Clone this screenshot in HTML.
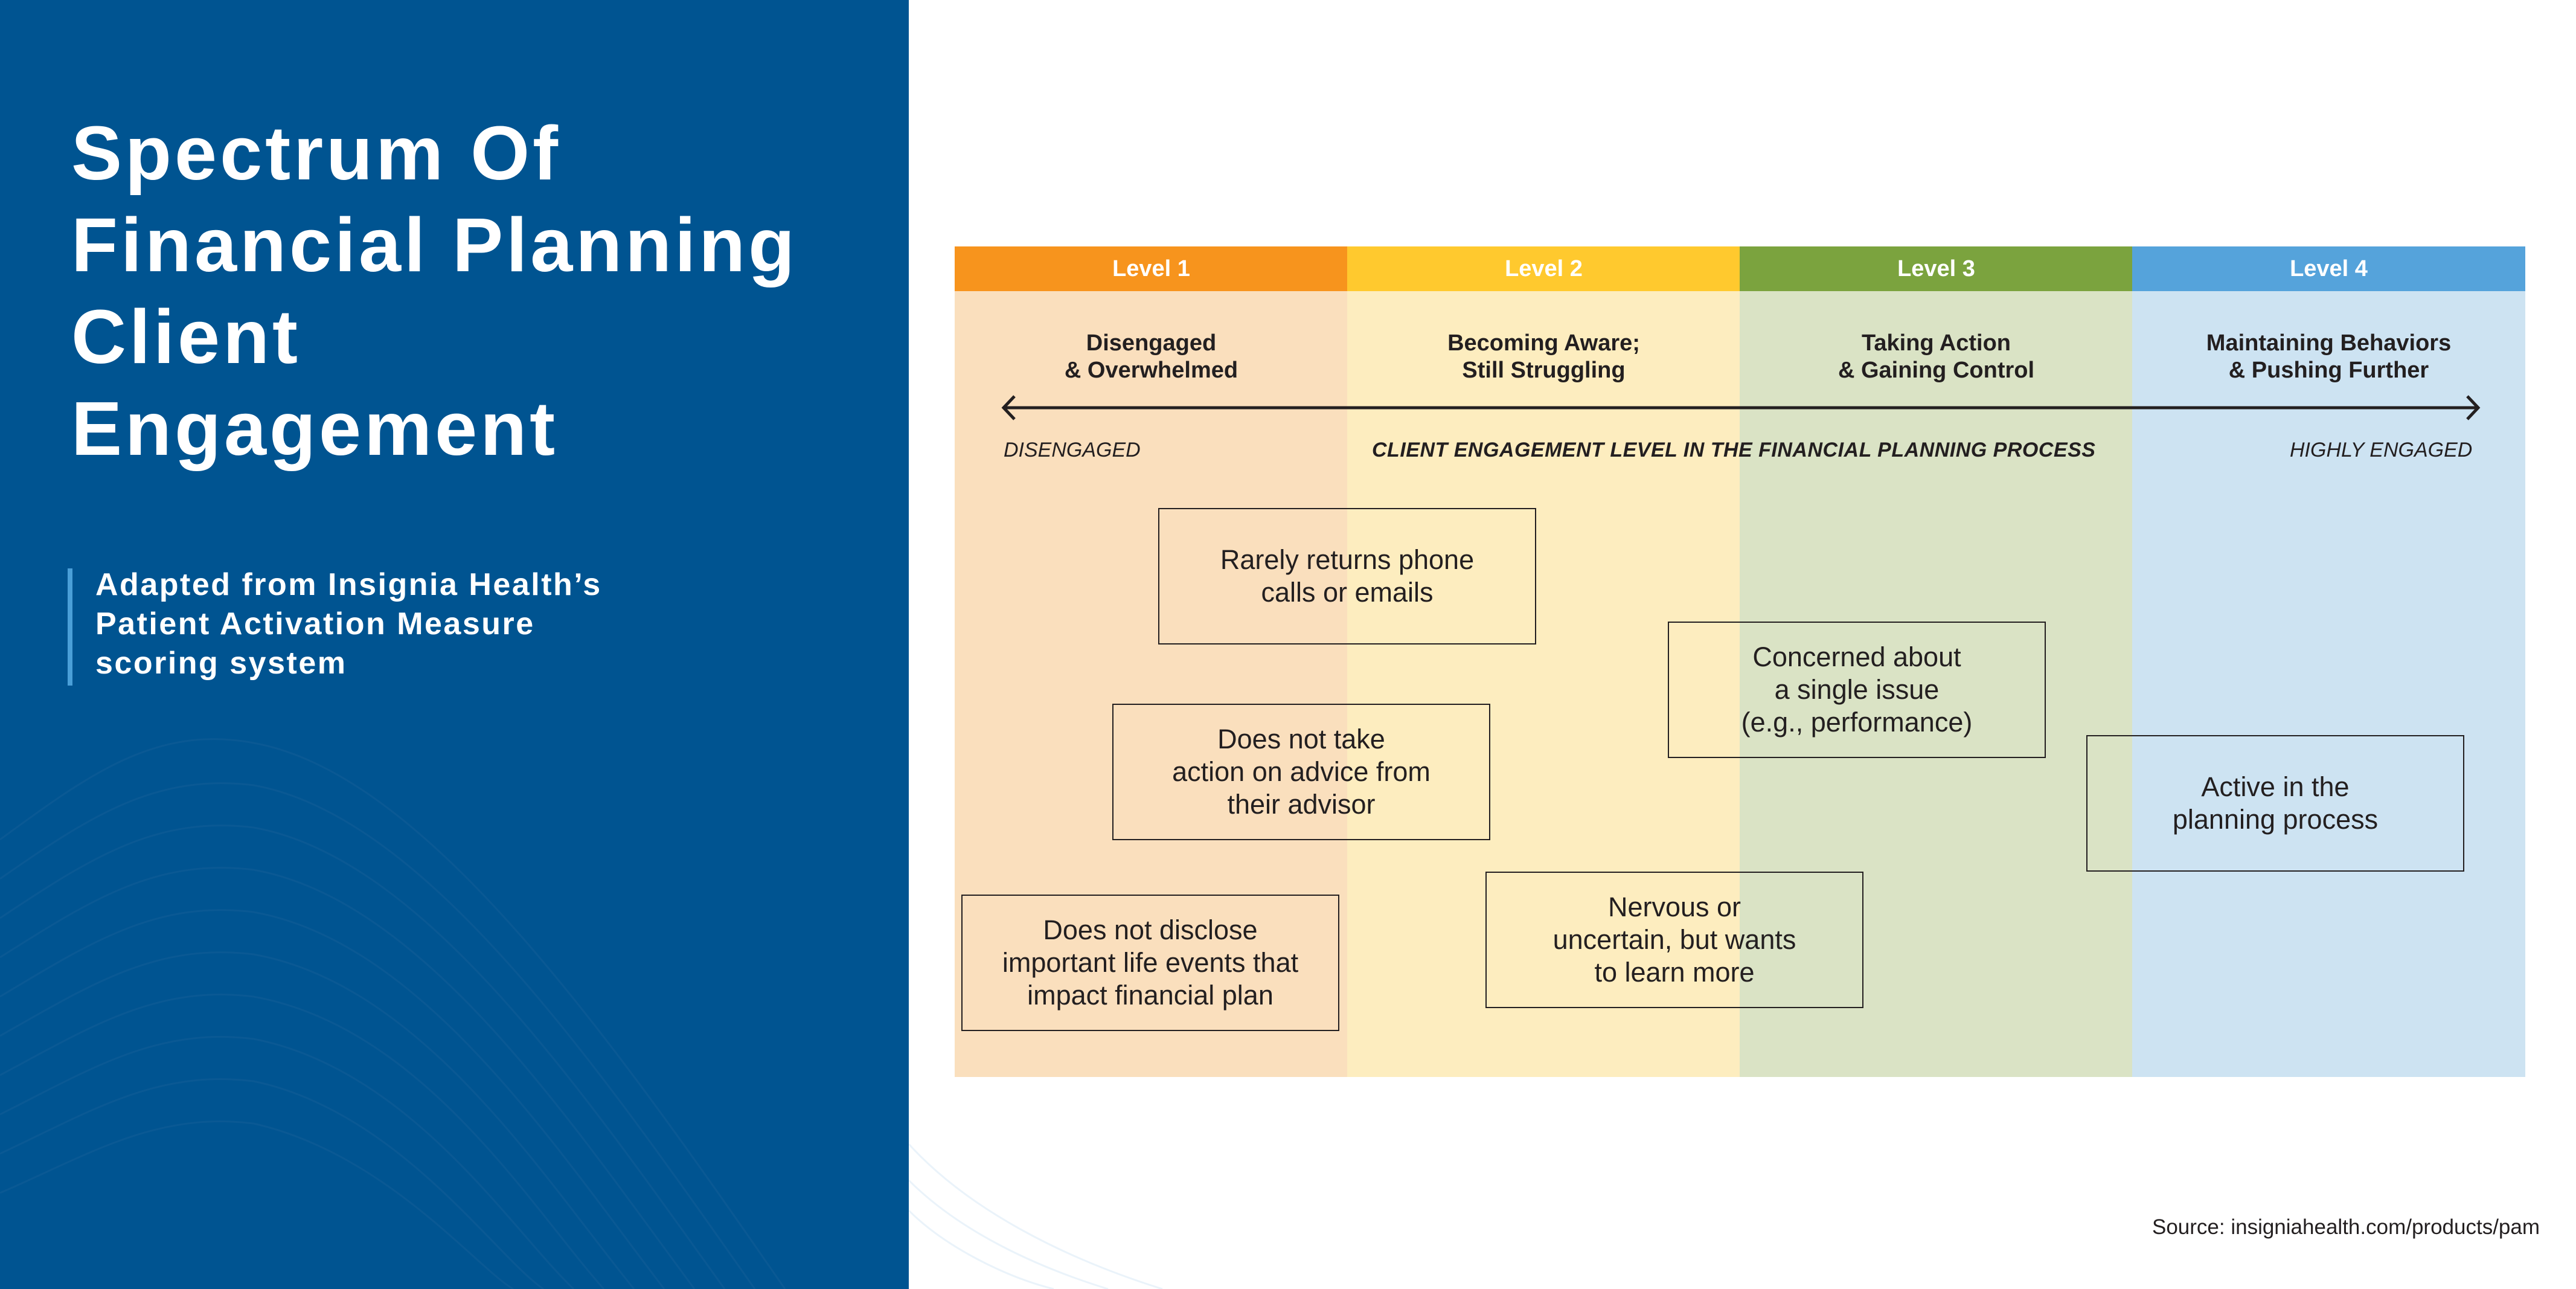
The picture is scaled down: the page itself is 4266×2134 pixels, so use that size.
<!DOCTYPE html>
<html><head><meta charset="utf-8"><style>
*{margin:0;padding:0;box-sizing:border-box}
body{width:4266px;height:2134px;position:relative;background:#fff;font-family:"Liberation Sans",sans-serif;overflow:hidden}
.panel{position:absolute;left:0;top:0;width:1505px;height:2134px;background:#005491;overflow:hidden}
.title{position:absolute;left:118px;top:178px;color:#fff;font-weight:bold;font-size:126px;line-height:152px;letter-spacing:5px}
.bar{position:absolute;left:112px;top:941px;width:8px;height:194px;background:#4a9fd8}
.sub{position:absolute;left:158px;top:936px;color:#fff;font-weight:bold;font-size:52px;line-height:65px;letter-spacing:2.5px}
.col{position:absolute;top:408px;height:1375px;width:651px}
.hd{height:74px;color:#fff;font-weight:bold;font-size:38px;line-height:74px;text-align:center}
.st{position:absolute;top:138px;left:0;width:100%;text-align:center;font-weight:bold;font-size:38px;line-height:45px;color:#231f20}
.lab{position:absolute;top:726px;font-style:italic;font-size:34px;color:#231f20}
.box{position:absolute;border:2.5px solid #231f20;display:flex;align-items:center;justify-content:center;text-align:center;font-size:45px;line-height:54px;color:#231f20;width:626px;height:226px}
.src{position:absolute;right:60px;top:2012px;font-size:35px;color:#231f20}
</style></head><body>
<div class="panel">
<svg width="1505" height="2134" style="position:absolute;left:0;top:0">
<g fill="none" stroke="#0a5994" stroke-width="3">
<path d="M0 1390 C150 1280 260 1200 420 1230 C700 1280 1000 1700 1300 2134"/>
<path d="M0 1455 C150 1350 260 1280 420 1300 C700 1350 980 1750 1250 2134"/>
<path d="M0 1520 C150 1420 260 1350 420 1370 C700 1420 960 1800 1200 2134"/>
<path d="M0 1585 C150 1490 260 1420 420 1440 C700 1490 940 1850 1150 2134"/>
<path d="M0 1650 C150 1560 260 1490 420 1510 C700 1560 920 1900 1100 2134"/>
<path d="M0 1715 C150 1630 260 1560 420 1580 C700 1630 900 1950 1050 2134"/>
<path d="M0 1780 C150 1700 260 1630 420 1650 C700 1700 880 2000 1000 2134"/>
<path d="M0 1845 C150 1770 260 1700 420 1720 C680 1770 850 2040 950 2134"/>
<path d="M0 1910 C150 1840 260 1770 420 1790 C660 1840 820 2080 900 2134"/>
<path d="M0 1975 C150 1910 260 1840 420 1860 C640 1910 790 2100 850 2134"/>
</g></svg>
<div class="title">Spectrum Of<br>Financial Planning<br>Client<br>Engagement</div>
<div class="bar"></div>
<div class="sub">Adapted from Insignia Health’s<br>Patient Activation Measure<br>scoring system</div>
</div>
<svg width="700" height="300" style="position:absolute;left:1505px;top:1834px">
<g fill="none" stroke="#eaf3fa" stroke-width="3">
<path d="M0 120 C80 200 200 260 330 300"/>
<path d="M0 170 C60 230 160 280 240 300"/>
<path d="M0 60 C100 170 260 250 420 300"/>
</g></svg>

<div class="col" style="left:1581px;background:#fadfbd"><div class="hd" style="background:#f7941d">Level 1</div><div class="st">Disengaged<br>&amp; Overwhelmed</div></div>
<div class="col" style="left:2231px;background:#fdedbf"><div class="hd" style="background:#ffc92e">Level 2</div><div class="st">Becoming Aware;<br>Still Struggling</div></div>
<div class="col" style="left:2881px;background:#dae3c5"><div class="hd" style="background:#7ba33e">Level 3</div><div class="st">Taking Action<br>&amp; Gaining Control</div></div>
<div class="col" style="left:3531px;width:651px;background:#cde3f2"><div class="hd" style="background:#55a3db">Level 4</div><div class="st">Maintaining Behaviors<br>&amp; Pushing Further</div></div>

<svg width="4266" height="800" style="position:absolute;left:0;top:0">
<line x1="1662" y1="675" x2="4104" y2="675" stroke="#231f20" stroke-width="5"/>
<polyline points="1680,656 1662,675 1680,694" fill="none" stroke="#231f20" stroke-width="5"/>
<polyline points="4086,656 4104,675 4086,694" fill="none" stroke="#231f20" stroke-width="5"/>
</svg>
<div class="lab" style="left:1662px;top:726px">DISENGAGED</div>
<div class="lab" style="left:2272px;top:726px;font-weight:bold;letter-spacing:0.5px">CLIENT ENGAGEMENT LEVEL IN THE FINANCIAL PLANNING PROCESS</div>
<div class="lab" style="left:3792px;top:726px">HIGHLY ENGAGED</div>

<div class="box" style="left:1918px;top:841px">Rarely returns phone<br>calls or emails</div>
<div class="box" style="left:1842px;top:1165px">Does not take<br>action on advice from<br>their advisor</div>
<div class="box" style="left:1592px;top:1481px">Does not disclose<br>important life events that<br>impact financial plan</div>
<div class="box" style="left:2762px;top:1029px">Concerned about<br>a single issue<br>(e.g., performance)</div>
<div class="box" style="left:2460px;top:1443px">Nervous or<br>uncertain, but wants<br>to learn more</div>
<div class="box" style="left:3455px;top:1217px">Active in the<br>planning process</div>

<div class="src">Source: insigniahealth.com/products/pam</div>
</body></html>
